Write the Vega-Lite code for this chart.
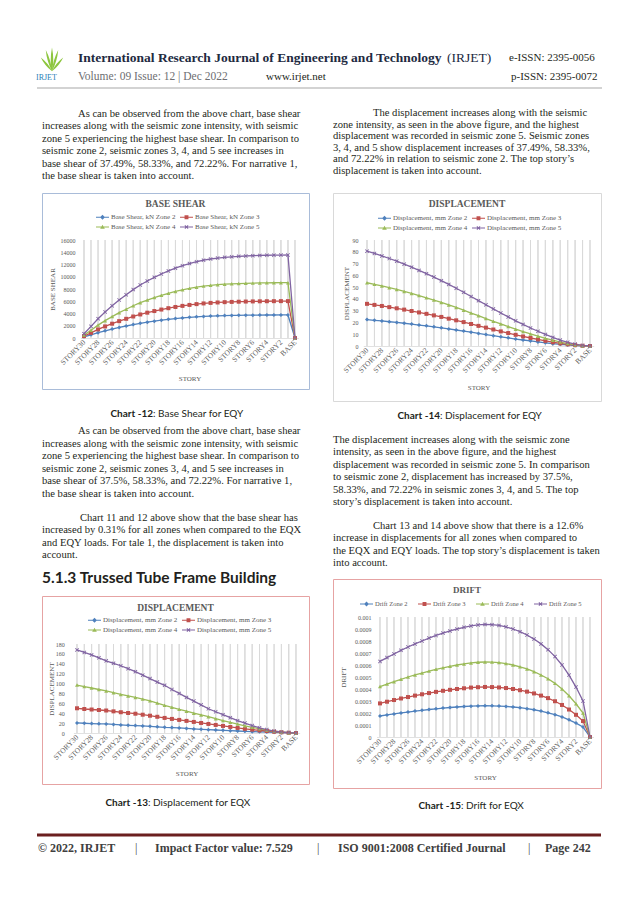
{
  "$schema": "https://vega.github.io/schema/vega-lite/v6.json",
  "padding": 0,
  "background": "white",
  "spacing": 0,
  "config": {
    "view": {"stroke": null},
    "axis": {"labelFont": "Liberation Serif", "titleFont": "Liberation Serif", "labelColor": "#595959", "titleColor": "#595959", "titleFontWeight": "normal", "ticks": false, "tickSize": 0}
  },
  "resolve": {"scale": {"color": "independent", "shape": "independent"}, "legend": {"color": "independent", "shape": "independent"}},
  "vconcat": [
    {
      "width": 638, "height": 95,
      "data": {"values": [{}]},
      "layer": [
        {"mark": {"type": "point", "filled": true, "opacity": 1, "color": "#8dc63f", "size": 620, "shape": "M0,0.9Q-0.2,0 0,-1Q0.2,0 0,0.9Z M0,0.9Q0.42,0.1 0.5,-0.8Q0.08,0 0,0.9Z M0,0.9Q-0.42,0.1 -0.5,-0.8Q-0.08,0 0,0.9Z M0,0.9Q0.59,0.46 0.9,-0.2Q0.31,0.24 0,0.9Z M0,0.9Q-0.59,0.46 -0.9,-0.2Q-0.31,0.24 0,0.9Z"},
         "encoding": {"x": {"datum": 52, "type": "quantitative", "scale": {"domain": [0, 638], "range": [0, 638], "nice": false, "zero": false}, "axis": null}, "y": {"datum": 60, "type": "quantitative", "scale": {"domain": [0, 95], "range": [0, 95], "nice": false, "zero": false}, "axis": null}}},
        {"mark": {"type": "text", "align": "left", "baseline": "middle", "font": "Liberation Serif", "fontSize": 8, "color": "#2a7fb8"},
         "encoding": {"x": {"datum": 36, "type": "quantitative"}, "y": {"datum": 78, "type": "quantitative"}, "text": {"value": "IRJET"}}},
        {"mark": {"type": "text", "align": "left", "baseline": "middle", "font": "Liberation Serif", "fontSize": 13.5, "fontWeight": "bold", "color": "#222a3f"},
         "encoding": {"x": {"datum": 78, "type": "quantitative"}, "y": {"datum": 58, "type": "quantitative"}, "text": {"value": "International Research Journal of Engineering and Technology"}}},
        {"mark": {"type": "text", "align": "left", "baseline": "middle", "font": "Liberation Serif", "fontSize": 13.5, "color": "#222a3f"},
         "encoding": {"x": {"datum": 447, "type": "quantitative"}, "y": {"datum": 58, "type": "quantitative"}, "text": {"value": "(IRJET)"}}},
        {"mark": {"type": "text", "align": "left", "baseline": "middle", "font": "Liberation Serif", "fontSize": 11, "color": "#231f20"},
         "encoding": {"x": {"datum": 509, "type": "quantitative"}, "y": {"datum": 58, "type": "quantitative"}, "text": {"value": "e-ISSN: 2395-0056"}}},
        {"mark": {"type": "text", "align": "left", "baseline": "middle", "font": "Liberation Serif", "fontSize": 11.5, "color": "#6d6e71"},
         "encoding": {"x": {"datum": 78, "type": "quantitative"}, "y": {"datum": 77, "type": "quantitative"}, "text": {"value": "Volume: 09 Issue: 12 | Dec 2022"}}},
        {"mark": {"type": "text", "align": "left", "baseline": "middle", "font": "Liberation Serif", "fontSize": 11, "color": "#231f20"},
         "encoding": {"x": {"datum": 266, "type": "quantitative"}, "y": {"datum": 77, "type": "quantitative"}, "text": {"value": "www.irjet.net"}}},
        {"mark": {"type": "text", "align": "left", "baseline": "middle", "font": "Liberation Serif", "fontSize": 11, "color": "#231f20"},
         "encoding": {"x": {"datum": 511, "type": "quantitative"}, "y": {"datum": 77, "type": "quantitative"}, "text": {"value": "p-ISSN: 2395-0072"}}},
        {"mark": {"type": "rule", "color": "#c4c4c4", "strokeWidth": 1.5},
         "encoding": {"x": {"datum": 37, "type": "quantitative"}, "x2": {"datum": 602}, "y": {"datum": 88, "type": "quantitative"}}}
      ]
    },
    {
      "hconcat": [
        {"width": 41, "height": 10, "data": {"values": [{}]}, "mark": {"type": "text"}, "encoding": {"text": {"value": ""}}},
        {
          "vconcat": [
            {
              "width": 267, "height": 97,
              "layer": [
                {"data": {"values": [{"t": "As can be observed from the above chart, base shear"}]},
                 "mark": {"type": "text", "align": "left", "baseline": "middle", "font": "Liberation Serif", "fontSize": 10.6, "color": "#231f20"},
                 "encoding": {"x": {"datum": 36, "type": "quantitative", "scale": {"domain": [0, 267], "range": [0, 267], "nice": false, "zero": false}, "axis": null},
                              "y": {"datum": 18, "type": "quantitative", "scale": {"domain": [0, 97], "range": [0, 97], "nice": false, "zero": false}, "axis": null}, "text": {"field": "t"}}},
                {"data": {"values": [
                  {"t": "increases along with the seismic zone intensity, with seismic"},
                  {"t": "zone 5 experiencing the highest base shear. In comparison to"},
                  {"t": "seismic zone 2, seismic zones 3, 4, and 5 see increases in"},
                  {"t": "base shear of 37.49%, 58.33%, and 72.22%. For narrative 1,"},
                  {"t": "the base shear is taken into account."}
                 ]},
                 "mark": {"type": "text", "align": "left", "baseline": "middle", "font": "Liberation Serif", "fontSize": 10.6, "color": "#231f20"},
                 "encoding": {"x": {"datum": 0, "type": "quantitative"},
                              "y": {"field": "t", "type": "ordinal", "sort": null, "scale": {"type": "point", "range": [30.4, 80], "padding": 0}, "axis": null}, "text": {"field": "t"}}}
              ],
              "resolve": {"scale": {"y": "independent"}}
            },
            {
              "width": 267, "height": 196,
              "view": {"stroke": "#a9bcd9", "strokeWidth": 1},
              "title": {"text": "BASE SHEAR", "offset": 0, "baseline": "top", "dy": 15, "anchor": "middle", "frame": "group", "font": "Liberation Serif", "fontSize": 9.5, "fontWeight": "bold", "color": "#595959"},
              "data": {"values": [
                {"s": "STORY30", "z2": 194, "z3": 311, "z4": 467, "z5": 700},
                {"s": "STORY29", "z2": 528, "z3": 844, "z4": 1267, "z5": 1900},
                {"s": "STORY28", "z2": 875, "z3": 1400, "z4": 2100, "z5": 3150},
                {"s": "STORY27", "z2": 1181, "z3": 1889, "z4": 2833, "z5": 4250},
                {"s": "STORY26", "z2": 1458, "z3": 2333, "z4": 3500, "z5": 5250},
                {"s": "STORY25", "z2": 1722, "z3": 2756, "z4": 4133, "z5": 6200},
                {"s": "STORY24", "z2": 1958, "z3": 3133, "z4": 4700, "z5": 7050},
                {"s": "STORY23", "z2": 2194, "z3": 3511, "z4": 5267, "z5": 7900},
                {"s": "STORY22", "z2": 2403, "z3": 3844, "z4": 5767, "z5": 8650},
                {"s": "STORY21", "z2": 2583, "z3": 4133, "z4": 6200, "z5": 9300},
                {"s": "STORY20", "z2": 2750, "z3": 4400, "z4": 6600, "z5": 9900},
                {"s": "STORY19", "z2": 2903, "z3": 4644, "z4": 6967, "z5": 10450},
                {"s": "STORY18", "z2": 3042, "z3": 4867, "z4": 7300, "z5": 10950},
                {"s": "STORY17", "z2": 3167, "z3": 5067, "z4": 7600, "z5": 11400},
                {"s": "STORY16", "z2": 3278, "z3": 5244, "z4": 7867, "z5": 11800},
                {"s": "STORY15", "z2": 3375, "z3": 5400, "z4": 8100, "z5": 12150},
                {"s": "STORY14", "z2": 3458, "z3": 5533, "z4": 8300, "z5": 12450},
                {"s": "STORY13", "z2": 3528, "z3": 5644, "z4": 8467, "z5": 12700},
                {"s": "STORY12", "z2": 3583, "z3": 5733, "z4": 8600, "z5": 12900},
                {"s": "STORY11", "z2": 3625, "z3": 5800, "z4": 8700, "z5": 13050},
                {"s": "STORY10", "z2": 3658, "z3": 5853, "z4": 8780, "z5": 13170},
                {"s": "STORY9", "z2": 3683, "z3": 5893, "z4": 8840, "z5": 13260},
                {"s": "STORY8", "z2": 3703, "z3": 5924, "z4": 8887, "z5": 13330},
                {"s": "STORY7", "z2": 3719, "z3": 5951, "z4": 8927, "z5": 13390},
                {"s": "STORY6", "z2": 3733, "z3": 5973, "z4": 8960, "z5": 13440},
                {"s": "STORY5", "z2": 3744, "z3": 5991, "z4": 8987, "z5": 13480},
                {"s": "STORY4", "z2": 3753, "z3": 6004, "z4": 9007, "z5": 13510},
                {"s": "STORY3", "z2": 3758, "z3": 6013, "z4": 9020, "z5": 13530},
                {"s": "STORY2", "z2": 3763, "z3": 6020, "z4": 9030, "z5": 13545},
                {"s": "STORY1", "z2": 3764, "z3": 6022, "z4": 9033, "z5": 13550},
                {"s": "BASE", "z2": 0, "z3": 0, "z4": 0, "z5": 0}
              ]},
              "transform": [{"fold": ["z2", "z3", "z4", "z5"], "as": ["k", "v"]}],
              "encoding": {
                "x": {"field": "s", "type": "ordinal", "sort": null, "scale": {"type": "point", "range": [38.48, 256.5], "padding": 0.5},
                      "axis": {"orient": "bottom", "offset": -51, "title": "STORY", "titleFontSize": 7, "titleY": 40, "titleBaseline": "middle", "labelAngle": -45, "labelAlign": "right", "labelBaseline": "middle", "labelFontSize": 7.5, "labelPadding": 3, "labelOverlap": false, "labelExpr": "datum.value == 'BASE' || parseInt(slice(datum.value, 5)) % 2 == 0 ? datum.value : ''", "domainColor": "#d9d9d9", "domainWidth": 0.8, "grid": false}},
                "y": {"field": "v", "type": "quantitative", "scale": {"domain": [0, 16000], "range": [145, 47], "nice": false},
                      "axis": {"orient": "left", "offset": -38.48, "values": [0, 2000, 4000, 6000, 8000, 10000, 12000, 14000, 16000], "format": "d", "domain": false, "grid": false, "labelFontSize": 6, "labelPadding": 5.5, "title": "BASE SHEAR", "titleFontSize": 7, "titleX": -27.5, "titleY": 96, "titleAngle": 270, "titleBaseline": "middle"}}
              },
              "layer": [
                {"mark": {"type": "rule", "color": "#d9d9d9", "strokeWidth": 0.6}, "encoding": {"y": {"datum": 0, "type": "quantitative"}, "y2": {"datum": 16000}}},
                {"mark": {"type": "line", "strokeWidth": 1.3}, "encoding": {"color": {"field": "k", "type": "nominal", "scale": {"domain": ["z2", "z3", "z4", "z5"], "range": ["#4F81BD", "#C0504D", "#9BBB59", "#8064A2"]}, "legend": null}}},
                {"mark": {"type": "point", "filled": true, "opacity": 1, "size": 16},
                 "encoding": {"color": {"field": "k", "type": "nominal", "scale": {"domain": ["z2", "z3", "z4", "z5"], "range": ["#4F81BD", "#C0504D", "#9BBB59", "#8064A2"]}, "legend": null},
                              "shape": {"field": "k", "type": "nominal", "scale": {"domain": ["z2", "z3", "z4", "z5"], "range": ["diamond", "square", "triangle-up", "M-1,-0.7L-0.7,-1L0,-0.3L0.7,-1L1,-0.7L0.3,0L1,0.7L0.7,1L0,0.3L-0.7,1L-1,0.7L-0.3,0Z"]}, "legend": null}}},
                {"transform": [{"filter": "false"}], "mark": {"type": "point", "filled": true, "opacity": 1},
                 "encoding": {"color": {"field": "k", "type": "nominal", "scale": {"domain": ["z2", "z4", "z3", "z5"], "range": ["#4F81BD", "#9BBB59", "#C0504D", "#8064A2"]},
                                        "legend": {"orient": "none", "legendX": 54, "legendY": 17.5, "columns": 2, "title": null, "labelExpr": "'Base Shear, kN Zone ' + slice(datum.label, 1)", "symbolSize": 169, "labelFont": "Liberation Serif", "labelFontSize": 7, "labelColor": "#595959", "rowPadding": -2, "columnPadding": 4, "labelOffset": 2, "symbolStrokeWidth": 0, "symbolOpacity": 1, "padding": 0}},
                              "shape": {"field": "k", "type": "nominal", "scale": {"domain": ["z2", "z4", "z3", "z5"], "range": ["M-1,-0.09H1V0.09H-1Z M0,-0.38L0.38,0L0,0.38L-0.38,0Z", "M-1,-0.09H1V0.09H-1Z M0,-0.36L0.36,0.26H-0.36Z", "M-1,-0.09H1V0.09H-1Z M-0.3,-0.3H0.3V0.3H-0.3Z", "M-1,-0.09H1V0.09H-1Z M-0.3,-0.2L-0.2,-0.3L0,-0.1L0.2,-0.3L0.3,-0.2L0.1,0L0.3,0.2L0.2,0.3L0,0.1L-0.2,0.3L-0.3,0.2L-0.1,0Z"]},
                                        "legend": {"orient": "none", "legendX": 54, "legendY": 17.5, "columns": 2, "title": null, "labelExpr": "'Base Shear, kN Zone ' + slice(datum.label, 1)", "symbolSize": 169, "labelFont": "Liberation Serif", "labelFontSize": 7, "labelColor": "#595959", "rowPadding": -2, "columnPadding": 4, "labelOffset": 2, "symbolStrokeWidth": 0, "symbolOpacity": 1, "padding": 0}}}}
              ],
              "resolve": {"scale": {"color": "independent", "shape": "independent"}}
            },
            {
              "width": 267, "height": 207,
              "layer": [
                {"data": {"values": [{"t": "Chart -12"}]},
                 "mark": {"type": "text", "align": "right", "baseline": "middle", "font": "Lato", "fontSize": 10, "fontWeight": "bold", "color": "#231f20"},
                 "encoding": {"x": {"datum": 111, "type": "quantitative", "scale": {"domain": [0, 267], "range": [0, 267], "nice": false, "zero": false}, "axis": null},
                              "y": {"datum": 25, "type": "quantitative", "scale": {"domain": [0, 207], "range": [0, 207], "nice": false, "zero": false}, "axis": null}, "text": {"field": "t"}}},
                {"data": {"values": [{"t": ": Base Shear for EQY"}]},
                 "mark": {"type": "text", "align": "left", "baseline": "middle", "font": "Lato", "fontSize": 10, "color": "#231f20"},
                 "encoding": {"x": {"datum": 111, "type": "quantitative"},
                              "y": {"datum": 25, "type": "quantitative", "scale": {"domain": [0, 207], "range": [0, 207], "nice": false, "zero": false}, "axis": null}, "text": {"field": "t"}}},
                {"data": {"values": [{"t": "As can be observed from the above chart, base shear"}]},
                 "mark": {"type": "text", "align": "left", "baseline": "middle", "font": "Liberation Serif", "fontSize": 10.6, "color": "#231f20"},
                 "encoding": {"x": {"datum": 36, "type": "quantitative"},
                              "y": {"datum": 42, "type": "quantitative", "scale": {"domain": [0, 207], "range": [0, 207], "nice": false, "zero": false}, "axis": null}, "text": {"field": "t"}}},
                {"data": {"values": [
                  {"t": "increases along with the seismic zone intensity, with seismic"},
                  {"t": "zone 5 experiencing the highest base shear. In comparison to"},
                  {"t": "seismic zone 2, seismic zones 3, 4, and 5 see increases in"},
                  {"t": "base shear of 37.5%, 58.33%, and 72.22%. For narrative 1,"},
                  {"t": "the base shear is taken into account."}
                 ]},
                 "mark": {"type": "text", "align": "left", "baseline": "middle", "font": "Liberation Serif", "fontSize": 10.6, "color": "#231f20"},
                 "encoding": {"x": {"datum": 0, "type": "quantitative"},
                              "y": {"field": "t", "type": "ordinal", "sort": null, "scale": {"type": "point", "range": [54.6, 105], "padding": 0}, "axis": null}, "text": {"field": "t"}}},
                {"data": {"values": [{"t": "Chart 11 and 12 above show that the base shear has"}]},
                 "mark": {"type": "text", "align": "left", "baseline": "middle", "font": "Liberation Serif", "fontSize": 10.6, "color": "#231f20"},
                 "encoding": {"x": {"datum": 38, "type": "quantitative"},
                              "y": {"datum": 129, "type": "quantitative", "scale": {"domain": [0, 207], "range": [0, 207], "nice": false, "zero": false}, "axis": null}, "text": {"field": "t"}}},
                {"data": {"values": [
                  {"t": "increased by 0.31% for all zones when compared to the EQX"},
                  {"t": "and EQY loads. For tale 1, the displacement is taken into"},
                  {"t": "account."}
                 ]},
                 "mark": {"type": "text", "align": "left", "baseline": "middle", "font": "Liberation Serif", "fontSize": 10.6, "color": "#231f20"},
                 "encoding": {"x": {"datum": 0, "type": "quantitative"},
                              "y": {"field": "t", "type": "ordinal", "sort": null, "scale": {"type": "point", "range": [141.3, 166], "padding": 0}, "axis": null}, "text": {"field": "t"}}},
                {"data": {"values": [{"t": "5.1.3 Trussed Tube Frame Building"}]},
                 "mark": {"type": "text", "align": "left", "baseline": "middle", "font": "Lato", "fontSize": 15.5, "fontWeight": "bold", "color": "#231f20"},
                 "encoding": {"x": {"datum": 0, "type": "quantitative"},
                              "y": {"datum": 189, "type": "quantitative", "scale": {"domain": [0, 207], "range": [0, 207], "nice": false, "zero": false}, "axis": null}, "text": {"field": "t"}}}
              ],
              "resolve": {"scale": {"y": "independent"}}
            },
            {
              "width": 267, "height": 188,
              "view": {"stroke": "#e6a3a3", "strokeWidth": 1},
              "title": {"text": "DISPLACEMENT", "offset": 0, "baseline": "top", "dy": 16, "anchor": "middle", "frame": "group", "font": "Liberation Serif", "fontSize": 9.5, "fontWeight": "bold", "color": "#595959"},
              "data": {"values": [
                {"s": "STORY30", "z2": 20.4, "z3": 50, "z4": 97, "z5": 168},
                {"s": "STORY29", "z2": 19.7, "z3": 48.5, "z4": 94, "z5": 163},
                {"s": "STORY28", "z2": 19, "z3": 47.5, "z4": 91, "z5": 158},
                {"s": "STORY27", "z2": 18.6, "z3": 46.5, "z4": 88, "z5": 152},
                {"s": "STORY26", "z2": 18.3, "z3": 45.5, "z4": 85, "z5": 146},
                {"s": "STORY25", "z2": 17.3, "z3": 43.8, "z4": 81.5, "z5": 141},
                {"s": "STORY24", "z2": 16.3, "z3": 42, "z4": 78, "z5": 136},
                {"s": "STORY23", "z2": 15.6, "z3": 40.5, "z4": 75, "z5": 130},
                {"s": "STORY22", "z2": 15, "z3": 39, "z4": 72, "z5": 124},
                {"s": "STORY21", "z2": 14.3, "z3": 37, "z4": 68.5, "z5": 117},
                {"s": "STORY20", "z2": 13.6, "z3": 35, "z4": 65, "z5": 110},
                {"s": "STORY19", "z2": 12.5, "z3": 32.8, "z4": 60.5, "z5": 103},
                {"s": "STORY18", "z2": 11.5, "z3": 30.5, "z4": 56, "z5": 96.5},
                {"s": "STORY17", "z2": 10.9, "z3": 28.5, "z4": 52, "z5": 88},
                {"s": "STORY16", "z2": 10.2, "z3": 26.5, "z4": 48, "z5": 80},
                {"s": "STORY15", "z2": 9.2, "z3": 24.5, "z4": 44, "z5": 72},
                {"s": "STORY14", "z2": 8.2, "z3": 22.4, "z4": 40, "z5": 64.5},
                {"s": "STORY13", "z2": 7.5, "z3": 20.3, "z4": 36.5, "z5": 57},
                {"s": "STORY12", "z2": 6.8, "z3": 18.3, "z4": 33, "z5": 49},
                {"s": "STORY11", "z2": 6.1, "z3": 16.3, "z4": 29, "z5": 43},
                {"s": "STORY10", "z2": 5.4, "z3": 14.3, "z4": 25, "z5": 37},
                {"s": "STORY9", "z2": 4.7, "z3": 12.2, "z4": 21.5, "z5": 31},
                {"s": "STORY8", "z2": 4, "z3": 10.2, "z4": 18, "z5": 25},
                {"s": "STORY7", "z2": 3.3, "z3": 8.4, "z4": 14.5, "z5": 20},
                {"s": "STORY6", "z2": 2.7, "z3": 6.8, "z4": 11.5, "z5": 15},
                {"s": "STORY5", "z2": 2.3, "z3": 5.3, "z4": 8.5, "z5": 10.5},
                {"s": "STORY4", "z2": 2, "z3": 4, "z4": 6, "z5": 7},
                {"s": "STORY3", "z2": 1.3, "z3": 2.6, "z4": 3.8, "z5": 4},
                {"s": "STORY2", "z2": 0.7, "z3": 1.4, "z4": 2, "z5": 2},
                {"s": "STORY1", "z2": 0.3, "z3": 0.5, "z4": 0.7, "z5": 0.8},
                {"s": "BASE", "z2": 0, "z3": 0, "z4": 0, "z5": 0}
              ]},
              "transform": [{"fold": ["z2", "z3", "z4", "z5"], "as": ["k", "v"]}],
              "encoding": {
                "x": {"field": "s", "type": "ordinal", "sort": null, "scale": {"type": "point", "range": [31.35, 257.65], "padding": 0.5},
                      "axis": {"orient": "bottom", "offset": -51, "title": "STORY", "titleFontSize": 7, "titleY": 40, "titleBaseline": "middle", "labelAngle": -45, "labelAlign": "right", "labelBaseline": "middle", "labelFontSize": 7.5, "labelPadding": 3, "labelOverlap": false, "labelExpr": "datum.value == 'BASE' || parseInt(slice(datum.value, 5)) % 2 == 0 ? datum.value : ''", "domainColor": "#d9d9d9", "domainWidth": 0.8, "grid": false}},
                "y": {"field": "v", "type": "quantitative", "scale": {"domain": [0, 180], "range": [137, 48], "nice": false},
                      "axis": {"orient": "left", "offset": -31.35, "values": [0, 20, 40, 60, 80, 100, 120, 140, 160, 180], "format": "d", "domain": false, "grid": false, "labelFontSize": 6, "labelPadding": 9, "title": "DISPLACEMENT", "titleFontSize": 7, "titleX": -22.35, "titleY": 92.5, "titleAngle": 270, "titleBaseline": "middle"}}
              },
              "layer": [
                {"mark": {"type": "rule", "color": "#d9d9d9", "strokeWidth": 0.6}, "encoding": {"y": {"datum": 0, "type": "quantitative"}, "y2": {"datum": 180}}},
                {"mark": {"type": "line", "strokeWidth": 1.3}, "encoding": {"color": {"field": "k", "type": "nominal", "scale": {"domain": ["z2", "z3", "z4", "z5"], "range": ["#4F81BD", "#C0504D", "#9BBB59", "#8064A2"]}, "legend": null}}},
                {"mark": {"type": "point", "filled": true, "opacity": 1, "size": 16},
                 "encoding": {"color": {"field": "k", "type": "nominal", "scale": {"domain": ["z2", "z3", "z4", "z5"], "range": ["#4F81BD", "#C0504D", "#9BBB59", "#8064A2"]}, "legend": null},
                              "shape": {"field": "k", "type": "nominal", "scale": {"domain": ["z2", "z3", "z4", "z5"], "range": ["diamond", "square", "triangle-up", "M-1,-0.7L-0.7,-1L0,-0.3L0.7,-1L1,-0.7L0.3,0L1,0.7L0.7,1L0,0.3L-0.7,1L-1,0.7L-0.3,0Z"]}, "legend": null}}},
                {"transform": [{"filter": "false"}], "mark": {"type": "point", "filled": true, "opacity": 1},
                 "encoding": {"color": {"field": "k", "type": "nominal", "scale": {"domain": ["z2", "z4", "z3", "z5"], "range": ["#4F81BD", "#9BBB59", "#C0504D", "#8064A2"]},
                                        "legend": {"orient": "none", "legendX": 46, "legendY": 17.5, "columns": 2, "title": null, "labelExpr": "'Displacement, mm Zone ' + slice(datum.label, 1)", "symbolSize": 169, "labelFont": "Liberation Serif", "labelFontSize": 7, "labelColor": "#595959", "rowPadding": 0, "columnPadding": 4, "labelOffset": 2, "symbolStrokeWidth": 0, "symbolOpacity": 1, "padding": 0}},
                              "shape": {"field": "k", "type": "nominal", "scale": {"domain": ["z2", "z4", "z3", "z5"], "range": ["M-1,-0.09H1V0.09H-1Z M0,-0.38L0.38,0L0,0.38L-0.38,0Z", "M-1,-0.09H1V0.09H-1Z M0,-0.36L0.36,0.26H-0.36Z", "M-1,-0.09H1V0.09H-1Z M-0.3,-0.3H0.3V0.3H-0.3Z", "M-1,-0.09H1V0.09H-1Z M-0.3,-0.2L-0.2,-0.3L0,-0.1L0.2,-0.3L0.3,-0.2L0.1,0L0.3,0.2L0.2,0.3L0,0.1L-0.2,0.3L-0.3,0.2L-0.1,0Z"]},
                                        "legend": {"orient": "none", "legendX": 46, "legendY": 17.5, "columns": 2, "title": null, "labelExpr": "'Displacement, mm Zone ' + slice(datum.label, 1)", "symbolSize": 169, "labelFont": "Liberation Serif", "labelFontSize": 7, "labelColor": "#595959", "rowPadding": 0, "columnPadding": 4, "labelOffset": 2, "symbolStrokeWidth": 0, "symbolOpacity": 1, "padding": 0}}}}
              ],
              "resolve": {"scale": {"color": "independent", "shape": "independent"}}
            },
            {
              "width": 267, "height": 40,
              "layer": [
                {"data": {"values": [{"t": "Chart -13"}]},
                 "mark": {"type": "text", "align": "right", "baseline": "middle", "font": "Lato", "fontSize": 10, "fontWeight": "bold", "color": "#231f20"},
                 "encoding": {"x": {"datum": 106, "type": "quantitative", "scale": {"domain": [0, 267], "range": [0, 267], "nice": false, "zero": false}, "axis": null},
                              "y": {"datum": 19, "type": "quantitative", "scale": {"domain": [0, 40], "range": [0, 40], "nice": false, "zero": false}, "axis": null}, "text": {"field": "t"}}},
                {"data": {"values": [{"t": ": Displacement for EQX"}]},
                 "mark": {"type": "text", "align": "left", "baseline": "middle", "font": "Lato", "fontSize": 10, "color": "#231f20"},
                 "encoding": {"x": {"datum": 106, "type": "quantitative"}, "y": {"datum": 19, "type": "quantitative"}, "text": {"field": "t"}}}
              ]
            }
          ],
          "spacing": 0,
          "bounds": "flush",
          "resolve": {"scale": {"color": "independent", "shape": "independent"}, "legend": {"color": "independent", "shape": "independent"}}
        },
        {"width": 22, "height": 10, "data": {"values": [{}]}, "mark": {"type": "text"}, "encoding": {"text": {"value": ""}}},
        {
          "vconcat": [
            {
              "width": 270, "height": 97,
              "layer": [
                {"data": {"values": [{"t": "The displacement increases along with the seismic"}]},
                 "mark": {"type": "text", "align": "left", "baseline": "middle", "font": "Liberation Serif", "fontSize": 10.6, "color": "#231f20"},
                 "encoding": {"x": {"datum": 40, "type": "quantitative", "scale": {"domain": [0, 270], "range": [0, 270], "nice": false, "zero": false}, "axis": null},
                              "y": {"datum": 17, "type": "quantitative", "scale": {"domain": [0, 97], "range": [0, 97], "nice": false, "zero": false}, "axis": null}, "text": {"field": "t"}}},
                {"data": {"values": [
                  {"t": "zone intensity, as seen in the above figure, and the highest"},
                  {"t": "displacement was recorded in seismic zone 5. Seismic zones"},
                  {"t": "3, 4, and 5 show displacement increases of 37.49%, 58.33%,"},
                  {"t": "and 72.22% in relation to seismic zone 2. The top story\u2019s"},
                  {"t": "displacement is taken into account."}
                 ]},
                 "mark": {"type": "text", "align": "left", "baseline": "middle", "font": "Liberation Serif", "fontSize": 10.6, "color": "#231f20"},
                 "encoding": {"x": {"datum": 0, "type": "quantitative"},
                              "y": {"field": "t", "type": "ordinal", "sort": null, "scale": {"type": "point", "range": [28.6, 75], "padding": 0}, "axis": null}, "text": {"field": "t"}}}
              ],
              "resolve": {"scale": {"y": "independent"}}
            },
            {
              "width": 268, "height": 208,
              "view": {"stroke": "#d9d9d9", "strokeWidth": 1},
              "title": {"text": "DISPLACEMENT", "offset": 0, "baseline": "top", "dy": 15, "anchor": "middle", "frame": "group", "font": "Liberation Serif", "fontSize": 9.5, "fontWeight": "bold", "color": "#595959"},
              "data": {"values": [
                {"s": "STORY30", "z2": 22.4, "z3": 35.8, "z4": 53.7, "z5": 80.5},
                {"s": "STORY29", "z2": 21.8, "z3": 34.9, "z4": 52.4, "z5": 78.6},
                {"s": "STORY28", "z2": 21.3, "z3": 34.0, "z4": 51.0, "z5": 76.5},
                {"s": "STORY27", "z2": 20.6, "z3": 33.0, "z4": 49.5, "z5": 74.3},
                {"s": "STORY26", "z2": 20.0, "z3": 32.0, "z4": 48.0, "z5": 72.0},
                {"s": "STORY25", "z2": 19.3, "z3": 30.9, "z4": 46.3, "z5": 69.5},
                {"s": "STORY24", "z2": 18.6, "z3": 29.7, "z4": 44.6, "z5": 66.9},
                {"s": "STORY23", "z2": 17.8, "z3": 28.5, "z4": 42.8, "z5": 64.2},
                {"s": "STORY22", "z2": 17.1, "z3": 27.3, "z4": 40.9, "z5": 61.4},
                {"s": "STORY21", "z2": 16.3, "z3": 26.0, "z4": 39.0, "z5": 58.5},
                {"s": "STORY20", "z2": 15.4, "z3": 24.7, "z4": 37.0, "z5": 55.5},
                {"s": "STORY19", "z2": 14.5, "z3": 23.2, "z4": 34.9, "z5": 52.3},
                {"s": "STORY18", "z2": 13.6, "z3": 21.8, "z4": 32.7, "z5": 49.0},
                {"s": "STORY17", "z2": 12.7, "z3": 20.3, "z4": 30.4, "z5": 45.6},
                {"s": "STORY16", "z2": 11.7, "z3": 18.7, "z4": 28.0, "z5": 42.0},
                {"s": "STORY15", "z2": 10.7, "z3": 17.1, "z4": 25.7, "z5": 38.5},
                {"s": "STORY14", "z2": 9.7, "z3": 15.6, "z4": 23.3, "z5": 35.0},
                {"s": "STORY13", "z2": 8.8, "z3": 14.0, "z4": 21.0, "z5": 31.5},
                {"s": "STORY12", "z2": 7.8, "z3": 12.4, "z4": 18.7, "z5": 28.0},
                {"s": "STORY11", "z2": 6.9, "z3": 11.0, "z4": 16.5, "z5": 24.7},
                {"s": "STORY10", "z2": 5.9, "z3": 9.5, "z4": 14.3, "z5": 21.4},
                {"s": "STORY9", "z2": 5.1, "z3": 8.1, "z4": 12.2, "z5": 18.3},
                {"s": "STORY8", "z2": 4.3, "z3": 6.8, "z4": 10.2, "z5": 15.3},
                {"s": "STORY7", "z2": 3.5, "z3": 5.6, "z4": 8.3, "z5": 12.5},
                {"s": "STORY6", "z2": 2.7, "z3": 4.4, "z4": 6.5, "z5": 9.8},
                {"s": "STORY5", "z2": 2.0, "z3": 3.2, "z4": 4.9, "z5": 7.3},
                {"s": "STORY4", "z2": 1.4, "z3": 2.2, "z4": 3.3, "z5": 5.0},
                {"s": "STORY3", "z2": 0.9, "z3": 1.4, "z4": 2.1, "z5": 3.1},
                {"s": "STORY2", "z2": 0.4, "z3": 0.7, "z4": 1.1, "z5": 1.6},
                {"s": "STORY1", "z2": 0.1, "z3": 0.2, "z4": 0.3, "z5": 0.5},
                {"s": "BASE", "z2": 0, "z3": 0, "z4": 0, "z5": 0}
              ]},
              "transform": [{"fold": ["z2", "z3", "z4", "z5"], "as": ["k", "v"]}],
              "encoding": {
                "x": {"field": "s", "type": "ordinal", "sort": null, "scale": {"type": "point", "range": [30.28, 260.7], "padding": 0.5},
                      "axis": {"orient": "bottom", "offset": -55, "title": "STORY", "titleFontSize": 7, "titleY": 41, "titleBaseline": "middle", "labelAngle": -45, "labelAlign": "right", "labelBaseline": "middle", "labelFontSize": 7.5, "labelPadding": 3, "labelOverlap": false, "labelExpr": "datum.value == 'BASE' || parseInt(slice(datum.value, 5)) % 2 == 0 ? datum.value : ''", "domainColor": "#d9d9d9", "domainWidth": 0.8, "grid": false}},
                "y": {"field": "v", "type": "quantitative", "scale": {"domain": [0, 90], "range": [153, 47], "nice": false},
                      "axis": {"orient": "left", "offset": -30.28, "values": [0, 10, 20, 30, 40, 50, 60, 70, 80, 90], "format": "d", "domain": false, "grid": false, "labelFontSize": 6, "labelPadding": 5.3, "title": "DISPLACEMENT", "titleFontSize": 7, "titleX": -17.28, "titleY": 100, "titleAngle": 270, "titleBaseline": "middle"}}
              },
              "layer": [
                {"mark": {"type": "rule", "color": "#d9d9d9", "strokeWidth": 0.6}, "encoding": {"y": {"datum": 0, "type": "quantitative"}, "y2": {"datum": 90}}},
                {"mark": {"type": "line", "strokeWidth": 1.3}, "encoding": {"color": {"field": "k", "type": "nominal", "scale": {"domain": ["z2", "z3", "z4", "z5"], "range": ["#4F81BD", "#C0504D", "#9BBB59", "#8064A2"]}, "legend": null}}},
                {"mark": {"type": "point", "filled": true, "opacity": 1, "size": 16},
                 "encoding": {"color": {"field": "k", "type": "nominal", "scale": {"domain": ["z2", "z3", "z4", "z5"], "range": ["#4F81BD", "#C0504D", "#9BBB59", "#8064A2"]}, "legend": null},
                              "shape": {"field": "k", "type": "nominal", "scale": {"domain": ["z2", "z3", "z4", "z5"], "range": ["diamond", "square", "triangle-up", "M-1,-0.7L-0.7,-1L0,-0.3L0.7,-1L1,-0.7L0.3,0L1,0.7L0.7,1L0,0.3L-0.7,1L-1,0.7L-0.3,0Z"]}, "legend": null}}},
                {"transform": [{"filter": "false"}], "mark": {"type": "point", "filled": true, "opacity": 1},
                 "encoding": {"color": {"field": "k", "type": "nominal", "scale": {"domain": ["z2", "z4", "z3", "z5"], "range": ["#4F81BD", "#9BBB59", "#C0504D", "#8064A2"]},
                                        "legend": {"orient": "none", "legendX": 45, "legendY": 18.5, "columns": 2, "title": null, "labelExpr": "'Displacement, mm Zone ' + slice(datum.label, 1)", "symbolSize": 169, "labelFont": "Liberation Serif", "labelFontSize": 7, "labelColor": "#595959", "rowPadding": -2, "columnPadding": 4, "labelOffset": 2, "symbolStrokeWidth": 0, "symbolOpacity": 1, "padding": 0}},
                              "shape": {"field": "k", "type": "nominal", "scale": {"domain": ["z2", "z4", "z3", "z5"], "range": ["M-1,-0.09H1V0.09H-1Z M0,-0.38L0.38,0L0,0.38L-0.38,0Z", "M-1,-0.09H1V0.09H-1Z M0,-0.36L0.36,0.26H-0.36Z", "M-1,-0.09H1V0.09H-1Z M-0.3,-0.3H0.3V0.3H-0.3Z", "M-1,-0.09H1V0.09H-1Z M-0.3,-0.2L-0.2,-0.3L0,-0.1L0.2,-0.3L0.3,-0.2L0.1,0L0.3,0.2L0.2,0.3L0,0.1L-0.2,0.3L-0.3,0.2L-0.1,0Z"]},
                                        "legend": {"orient": "none", "legendX": 45, "legendY": 18.5, "columns": 2, "title": null, "labelExpr": "'Displacement, mm Zone ' + slice(datum.label, 1)", "symbolSize": 169, "labelFont": "Liberation Serif", "labelFontSize": 7, "labelColor": "#595959", "rowPadding": -2, "columnPadding": 4, "labelOffset": 2, "symbolStrokeWidth": 0, "symbolOpacity": 1, "padding": 0}}}}
              ],
              "resolve": {"scale": {"color": "independent", "shape": "independent"}}
            },
            {
              "width": 270, "height": 178,
              "layer": [
                {"data": {"values": [{"t": "Chart -14"}]},
                 "mark": {"type": "text", "align": "right", "baseline": "middle", "font": "Lato", "fontSize": 10, "fontWeight": "bold", "color": "#231f20"},
                 "encoding": {"x": {"datum": 107, "type": "quantitative", "scale": {"domain": [0, 270], "range": [0, 270], "nice": false, "zero": false}, "axis": null},
                              "y": {"datum": 15, "type": "quantitative", "scale": {"domain": [0, 178], "range": [0, 178], "nice": false, "zero": false}, "axis": null}, "text": {"field": "t"}}},
                {"data": {"values": [{"t": ": Displacement for EQY"}]},
                 "mark": {"type": "text", "align": "left", "baseline": "middle", "font": "Lato", "fontSize": 10, "color": "#231f20"},
                 "encoding": {"x": {"datum": 107, "type": "quantitative"},
                              "y": {"datum": 15, "type": "quantitative", "scale": {"domain": [0, 178], "range": [0, 178], "nice": false, "zero": false}, "axis": null}, "text": {"field": "t"}}},
                {"data": {"values": [
                  {"t": "The displacement increases along with the seismic zone"},
                  {"t": "intensity, as seen in the above figure, and the highest"},
                  {"t": "displacement was recorded in seismic zone 5. In comparison"},
                  {"t": "to seismic zone 2, displacement has increased by 37.5%,"},
                  {"t": "58.33%, and 72.22% in seismic zones 3, 4, and 5. The top"},
                  {"t": "story\u2019s displacement is taken into account."}
                 ]},
                 "mark": {"type": "text", "align": "left", "baseline": "middle", "font": "Liberation Serif", "fontSize": 10.6, "color": "#231f20"},
                 "encoding": {"x": {"datum": 0, "type": "quantitative"},
                              "y": {"field": "t", "type": "ordinal", "sort": null, "scale": {"type": "point", "range": [39, 101], "padding": 0}, "axis": null}, "text": {"field": "t"}}},
                {"data": {"values": [{"t": "Chart 13 and 14 above show that there is a 12.6%"}]},
                 "mark": {"type": "text", "align": "left", "baseline": "middle", "font": "Liberation Serif", "fontSize": 10.6, "color": "#231f20"},
                 "encoding": {"x": {"datum": 40, "type": "quantitative"},
                              "y": {"datum": 125, "type": "quantitative", "scale": {"domain": [0, 178], "range": [0, 178], "nice": false, "zero": false}, "axis": null}, "text": {"field": "t"}}},
                {"data": {"values": [
                  {"t": "increase in displacements for all zones when compared to"},
                  {"t": "the EQX and EQY loads. The top story\u2019s displacement is taken"},
                  {"t": "into account."}
                 ]},
                 "mark": {"type": "text", "align": "left", "baseline": "middle", "font": "Liberation Serif", "fontSize": 10.6, "color": "#231f20"},
                 "encoding": {"x": {"datum": 0, "type": "quantitative"},
                              "y": {"field": "t", "type": "ordinal", "sort": null, "scale": {"type": "point", "range": [137.3, 162], "padding": 0}, "axis": null}, "text": {"field": "t"}}}
              ],
              "resolve": {"scale": {"y": "independent"}}
            },
            {
              "width": 268, "height": 209,
              "view": {"stroke": "#e6a3a3", "strokeWidth": 1},
              "title": {"text": "DRIFT", "offset": 0, "baseline": "top", "dy": 16, "anchor": "middle", "frame": "group", "font": "Liberation Serif", "fontSize": 9, "fontWeight": "bold", "color": "#595959"},
              "data": {"values": [
                {"s": "STORY30", "z2": 0.000175, "z3": 0.000280, "z4": 0.000420, "z5": 0.000630},
                {"s": "STORY29", "z2": 0.000184, "z3": 0.000294, "z4": 0.000441, "z5": 0.000662},
                {"s": "STORY28", "z2": 0.000192, "z3": 0.000308, "z4": 0.000461, "z5": 0.000692},
                {"s": "STORY27", "z2": 0.000201, "z3": 0.000321, "z4": 0.000481, "z5": 0.000722},
                {"s": "STORY26", "z2": 0.000208, "z3": 0.000333, "z4": 0.000500, "z5": 0.000750},
                {"s": "STORY25", "z2": 0.000216, "z3": 0.000345, "z4": 0.000517, "z5": 0.000776},
                {"s": "STORY24", "z2": 0.000222, "z3": 0.000356, "z4": 0.000533, "z5": 0.000800},
                {"s": "STORY23", "z2": 0.000229, "z3": 0.000366, "z4": 0.000549, "z5": 0.000824},
                {"s": "STORY22", "z2": 0.000235, "z3": 0.000376, "z4": 0.000564, "z5": 0.000846},
                {"s": "STORY21", "z2": 0.000241, "z3": 0.000385, "z4": 0.000577, "z5": 0.000866},
                {"s": "STORY20", "z2": 0.000246, "z3": 0.000393, "z4": 0.000589, "z5": 0.000884},
                {"s": "STORY19", "z2": 0.000250, "z3": 0.000400, "z4": 0.000600, "z5": 0.000900},
                {"s": "STORY18", "z2": 0.000254, "z3": 0.000406, "z4": 0.000609, "z5": 0.000914},
                {"s": "STORY17", "z2": 0.000257, "z3": 0.000412, "z4": 0.000617, "z5": 0.000926},
                {"s": "STORY16", "z2": 0.000259, "z3": 0.000415, "z4": 0.000623, "z5": 0.000934},
                {"s": "STORY15", "z2": 0.000261, "z3": 0.000417, "z4": 0.000625, "z5": 0.000938},
                {"s": "STORY14", "z2": 0.000260, "z3": 0.000416, "z4": 0.000624, "z5": 0.000936},
                {"s": "STORY13", "z2": 0.000258, "z3": 0.000413, "z4": 0.000620, "z5": 0.000930},
                {"s": "STORY12", "z2": 0.000255, "z3": 0.000408, "z4": 0.000612, "z5": 0.000918},
                {"s": "STORY11", "z2": 0.000250, "z3": 0.000400, "z4": 0.000600, "z5": 0.000900},
                {"s": "STORY10", "z2": 0.000244, "z3": 0.000390, "z4": 0.000585, "z5": 0.000878},
                {"s": "STORY9", "z2": 0.000236, "z3": 0.000378, "z4": 0.000567, "z5": 0.000850},
                {"s": "STORY8", "z2": 0.000227, "z3": 0.000363, "z4": 0.000544, "z5": 0.000816},
                {"s": "STORY7", "z2": 0.000216, "z3": 0.000345, "z4": 0.000517, "z5": 0.000776},
                {"s": "STORY6", "z2": 0.000202, "z3": 0.000324, "z4": 0.000485, "z5": 0.000728},
                {"s": "STORY5", "z2": 0.000186, "z3": 0.000298, "z4": 0.000447, "z5": 0.000670},
                {"s": "STORY4", "z2": 0.000167, "z3": 0.000267, "z4": 0.000400, "z5": 0.000600},
                {"s": "STORY3", "z2": 0.000143, "z3": 0.000229, "z4": 0.000344, "z5": 0.000516},
                {"s": "STORY2", "z2": 0.000116, "z3": 0.000185, "z4": 0.000277, "z5": 0.000416},
                {"s": "STORY1", "z2": 0.000083, "z3": 0.000133, "z4": 0.000200, "z5": 0.000300},
                {"s": "BASE", "z2": 0, "z3": 0, "z4": 0, "z5": 0}
              ]},
              "transform": [{"fold": ["z2", "z3", "z4", "z5"], "as": ["k", "v"]}],
              "encoding": {
                "x": {"field": "s", "type": "ordinal", "sort": null, "scale": {"type": "point", "range": [43.5, 260.5], "padding": 0.5},
                      "axis": {"orient": "bottom", "offset": -51, "title": "STORY", "titleFontSize": 7, "titleY": 40, "titleBaseline": "middle", "labelAngle": -45, "labelAlign": "right", "labelBaseline": "middle", "labelFontSize": 7.5, "labelPadding": 3, "labelOverlap": false, "labelExpr": "datum.value == 'BASE' || parseInt(slice(datum.value, 5)) % 2 == 0 ? datum.value : ''", "domainColor": "#d9d9d9", "domainWidth": 0.8, "grid": false}},
                "y": {"field": "v", "type": "quantitative", "scale": {"domain": [0, 0.001], "range": [158, 38], "nice": false},
                      "axis": {"orient": "left", "offset": -43.5, "values": [0, 0.0001, 0.0002, 0.0003, 0.0004, 0.0005, 0.0006, 0.0007, 0.0008, 0.0009, 0.001], "format": "~g", "domain": false, "grid": false, "labelFontSize": 6, "labelPadding": 5.5, "title": "DRIFT", "titleFontSize": 7, "titleX": -33.5, "titleY": 98, "titleAngle": 270, "titleBaseline": "middle"}}
              },
              "layer": [
                {"mark": {"type": "rule", "color": "#d9d9d9", "strokeWidth": 0.6}, "encoding": {"y": {"datum": 0, "type": "quantitative"}, "y2": {"datum": 0.001}}},
                {"mark": {"type": "line", "strokeWidth": 1.3}, "encoding": {"color": {"field": "k", "type": "nominal", "scale": {"domain": ["z2", "z3", "z4", "z5"], "range": ["#4F81BD", "#C0504D", "#9BBB59", "#8064A2"]}, "legend": null}}},
                {"mark": {"type": "point", "filled": true, "opacity": 1, "size": 16},
                 "encoding": {"color": {"field": "k", "type": "nominal", "scale": {"domain": ["z2", "z3", "z4", "z5"], "range": ["#4F81BD", "#C0504D", "#9BBB59", "#8064A2"]}, "legend": null},
                              "shape": {"field": "k", "type": "nominal", "scale": {"domain": ["z2", "z3", "z4", "z5"], "range": ["diamond", "square", "triangle-up", "M-1,-0.7L-0.7,-1L0,-0.3L0.7,-1L1,-0.7L0.3,0L1,0.7L0.7,1L0,0.3L-0.7,1L-1,0.7L-0.3,0Z"]}, "legend": null}}},
                {"transform": [{"filter": "false"}], "mark": {"type": "point", "filled": true, "opacity": 1},
                 "encoding": {"color": {"field": "k", "type": "nominal", "scale": {"domain": ["z2", "z3", "z4", "z5"], "range": ["#4F81BD", "#C0504D", "#9BBB59", "#8064A2"]},
                                        "legend": {"orient": "none", "legendX": 27, "legendY": 18.5, "columns": 4, "title": null, "labelExpr": "'Drift Zone ' + slice(datum.label, 1)", "symbolSize": 169, "labelFont": "Liberation Serif", "labelFontSize": 6.5, "labelColor": "#595959", "rowPadding": 0, "columnPadding": 10, "labelOffset": 2, "symbolStrokeWidth": 0, "symbolOpacity": 1, "padding": 0}},
                              "shape": {"field": "k", "type": "nominal", "scale": {"domain": ["z2", "z3", "z4", "z5"], "range": ["M-1,-0.09H1V0.09H-1Z M0,-0.38L0.38,0L0,0.38L-0.38,0Z", "M-1,-0.09H1V0.09H-1Z M-0.3,-0.3H0.3V0.3H-0.3Z", "M-1,-0.09H1V0.09H-1Z M0,-0.36L0.36,0.26H-0.36Z", "M-1,-0.09H1V0.09H-1Z M-0.3,-0.2L-0.2,-0.3L0,-0.1L0.2,-0.3L0.3,-0.2L0.1,0L0.3,0.2L0.2,0.3L0,0.1L-0.2,0.3L-0.3,0.2L-0.1,0Z"]},
                                        "legend": {"orient": "none", "legendX": 27, "legendY": 18.5, "columns": 4, "title": null, "labelExpr": "'Drift Zone ' + slice(datum.label, 1)", "symbolSize": 169, "labelFont": "Liberation Serif", "labelFontSize": 6.5, "labelColor": "#595959", "rowPadding": 0, "columnPadding": 10, "labelOffset": 2, "symbolStrokeWidth": 0, "symbolOpacity": 1, "padding": 0}}}}
              ],
              "resolve": {"scale": {"color": "independent", "shape": "independent"}}
            },
            {
              "width": 270, "height": 36,
              "layer": [
                {"data": {"values": [{"t": "Chart -15"}]},
                 "mark": {"type": "text", "align": "right", "baseline": "middle", "font": "Lato", "fontSize": 10, "fontWeight": "bold", "color": "#231f20"},
                 "encoding": {"x": {"datum": 128, "type": "quantitative", "scale": {"domain": [0, 270], "range": [0, 270], "nice": false, "zero": false}, "axis": null},
                              "y": {"datum": 18, "type": "quantitative", "scale": {"domain": [0, 36], "range": [0, 36], "nice": false, "zero": false}, "axis": null}, "text": {"field": "t"}}},
                {"data": {"values": [{"t": ": Drift for EQX"}]},
                 "mark": {"type": "text", "align": "left", "baseline": "middle", "font": "Lato", "fontSize": 10, "color": "#231f20"},
                 "encoding": {"x": {"datum": 128, "type": "quantitative"}, "y": {"datum": 18, "type": "quantitative"}, "text": {"field": "t"}}}
              ]
            }
          ],
          "spacing": 0,
          "bounds": "flush",
          "resolve": {"scale": {"color": "independent", "shape": "independent"}, "legend": {"color": "independent", "shape": "independent"}}
        }
      ],
      "spacing": 0,
      "resolve": {"scale": {"color": "independent", "shape": "independent"}, "legend": {"color": "independent", "shape": "independent"}}
    },
    {
      "width": 638, "height": 79,
      "data": {"values": [{}]},
      "layer": [
        {"mark": {"type": "rule", "color": "#6b1f1f", "strokeWidth": 3},
         "encoding": {"x": {"datum": 37, "type": "quantitative", "scale": {"domain": [0, 638], "range": [0, 638], "nice": false, "zero": false}, "axis": null}, "x2": {"datum": 601},
                      "y": {"datum": 11, "type": "quantitative", "scale": {"domain": [0, 79], "range": [0, 79], "nice": false, "zero": false}, "axis": null}}},
        {"mark": {"type": "text", "align": "left", "baseline": "middle", "font": "Liberation Serif", "fontSize": 12, "fontWeight": "bold", "color": "#404040"},
         "encoding": {"x": {"datum": 38, "type": "quantitative"}, "y": {"datum": 24, "type": "quantitative"}, "text": {"value": "\u00a9 2022, IRJET"}}},
        {"mark": {"type": "text", "align": "left", "baseline": "middle", "font": "Liberation Serif", "fontSize": 12, "color": "#404040"},
         "encoding": {"x": {"datum": 135, "type": "quantitative"}, "y": {"datum": 24, "type": "quantitative"}, "text": {"value": "|"}}},
        {"mark": {"type": "text", "align": "left", "baseline": "middle", "font": "Liberation Serif", "fontSize": 12, "fontWeight": "bold", "color": "#404040"},
         "encoding": {"x": {"datum": 155, "type": "quantitative"}, "y": {"datum": 24, "type": "quantitative"}, "text": {"value": "Impact Factor value: 7.529"}}},
        {"mark": {"type": "text", "align": "left", "baseline": "middle", "font": "Liberation Serif", "fontSize": 12, "color": "#404040"},
         "encoding": {"x": {"datum": 317, "type": "quantitative"}, "y": {"datum": 24, "type": "quantitative"}, "text": {"value": "|"}}},
        {"mark": {"type": "text", "align": "left", "baseline": "middle", "font": "Liberation Serif", "fontSize": 12, "fontWeight": "bold", "color": "#404040"},
         "encoding": {"x": {"datum": 338, "type": "quantitative"}, "y": {"datum": 24, "type": "quantitative"}, "text": {"value": "ISO 9001:2008 Certified Journal"}}},
        {"mark": {"type": "text", "align": "left", "baseline": "middle", "font": "Liberation Serif", "fontSize": 12, "color": "#404040"},
         "encoding": {"x": {"datum": 528, "type": "quantitative"}, "y": {"datum": 24, "type": "quantitative"}, "text": {"value": "|"}}},
        {"mark": {"type": "text", "align": "left", "baseline": "middle", "font": "Liberation Serif", "fontSize": 12, "fontWeight": "bold", "color": "#404040"},
         "encoding": {"x": {"datum": 545, "type": "quantitative"}, "y": {"datum": 24, "type": "quantitative"}, "text": {"value": "Page 242"}}}
      ]
    }
  ]
}
